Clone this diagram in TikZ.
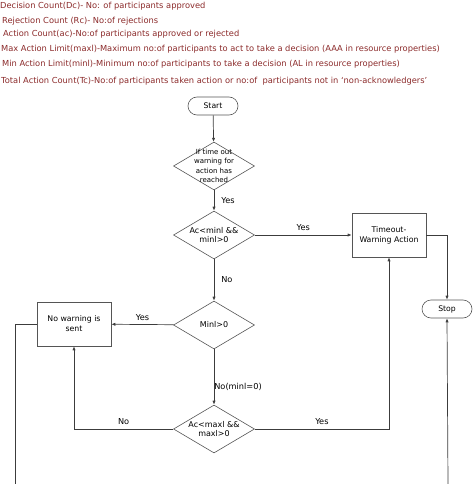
\documentclass[tikz,border=0pt]{standalone}
\usepackage{fontspec}
\setmainfont{DejaVu Sans}
\usetikzlibrary{shapes.geometric,arrows.meta,positioning}
\definecolor{legendred}{HTML}{8B2A2A}
\definecolor{flowline}{HTML}{3C3C3C}
\definecolor{shapeline}{HTML}{555555}

\begin{document}
\begin{tikzpicture}[x=1pt, y=-1pt,
  legend/.style={anchor=base west, inner sep=0pt, text=legendred, font=\fontsize{8.3}{10}\selectfont},
  terminal/.style={draw=shapeline, line width=0.6pt, rounded corners=9pt, minimum width=50pt, minimum height=18pt, inner sep=0pt, font=\fontsize{7.7}{9}\selectfont},
  process/.style={draw=shapeline, line width=0.6pt, minimum width=74pt, minimum height=44pt, align=center, inner sep=0pt, font=\fontsize{7.8}{10}\selectfont},
  decision/.style={draw=shapeline, line width=0.6pt, diamond, minimum width=81pt, minimum height=48pt, inner sep=0pt},
  dtext/.style={align=center, inner sep=0pt, font=\fontsize{8}{9.8}\selectfont},
  flow/.style={draw=flowline, line width=0.7pt, -{Latex[length=4pt,width=3.2pt]}},
  link/.style={draw=flowline, line width=0.7pt},
  lbl/.style={inner sep=1pt, font=\fontsize{8.2}{9}\selectfont}
]
  \useasboundingbox (0,0) rectangle (474,484);

  % Legend
  \node[legend] (dc) at (0, 9)  {Decision Count(Dc)- No: of participants approved};
  \node[legend] (rc) at (2, 24) {Rejection Count (Rc)- No:of rejections};
  \node[legend] (ac) at (3, 37) {Action Count(ac)-No:of participants approved or rejected};
  \node[legend] (maxl) at (1, 52) {Max Action Limit(maxl)-Maximum no:of participants to act to take a decision (AAA in resource properties)};
  \node[legend] (minl) at (2, 67) {Min Action Limit(minl)-Minimum no:of participants to take a decision (AL in resource properties)};
  \node[legend] (tc) at (1, 84) {Total Action Count(Tc)-No:of participants taken action or no:of \ participants not in `non-acknowledgers'};

  % Flowchart shapes
  \node[terminal] (start) at (213, 106) {Start};
  \node[decision, label={[dtext, font=\fontsize{7}{9.3}\selectfont]center:If time out\\warning for\\action has\\reached}] (timeup) at (214, 166) {};
  \node[decision, label={[dtext]center:Ac<minl \&\&\\minl>0}] (belowmin) at (214, 235) {};
  \node[decision, label={[dtext]center:Minl>0}] (minpos) at (214, 325) {};
  \node[decision, label={[dtext]center:Ac<maxl \&\&\\maxl>0}] (belowmax) at (214, 429) {};
  \node[process] (warn) at (389, 235) {Timeout-\\Warning Action};
  \node[process] (nowarn) at (74, 324) {No warning is\\sent};
  \node[terminal] (stop) at (447, 309) {Stop};

  % Loose ends at the bottom edge
  \coordinate (leftend) at (15, 484);
  \coordinate (rightend) at (448, 484);

  % Connectors
  \draw[flow] (start) -- (timeup);
  \draw[flow] (timeup) -- node[lbl, right=6pt] {Yes} (belowmin);
  \draw[flow] (belowmin) -- node[lbl, above=3pt] {Yes} (warn);
  \draw[flow] (belowmin) -- node[lbl, right=6pt] {No} (minpos);
  \draw[flow] (minpos) -- node[lbl, above=3pt] {Yes} (nowarn);
  \draw[flow] (minpos) -- node[lbl, pos=0.68, anchor=west, inner sep=0pt] {No(minl=0)} (belowmax);
  \draw[flow] (belowmax.west) -- node[lbl, above=3pt] {No} (belowmax.west -| nowarn.south) -- (nowarn.south);
  \draw[flow] (belowmax.east) -- node[lbl, above=3pt] {Yes} (belowmax.east -| warn.south) -- (warn.south);
  \draw[flow] (warn.east) -| (stop.north);
  \draw[link] (nowarn.west) -| (leftend);
  \draw[flow] (rightend) -- (stop.south);
\end{tikzpicture}
\end{document}
